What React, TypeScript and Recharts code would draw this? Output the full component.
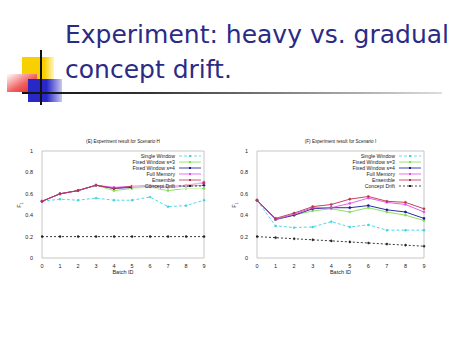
import React from "react";
import { LineChart, Line, XAxis, YAxis, ReferenceArea } from "recharts";

const batches = [0, 1, 2, 3, 4, 5, 6, 7, 8, 9];
const yTicks = [0, 0.2, 0.4, 0.6, 0.8, 1];

// Scenario H (heavy drift)
const hSingle = [0.53, 0.55, 0.54, 0.56, 0.54, 0.54, 0.57, 0.48, 0.49, 0.54];
const hFixed3 = [0.53, 0.6, 0.63, 0.68, 0.63, 0.65, 0.66, 0.63, 0.65, 0.65];
const hFixed4 = [0.53, 0.6, 0.63, 0.68, 0.65, 0.66, 0.67, 0.66, 0.67, 0.68];
const hFull = [0.53, 0.6, 0.63, 0.68, 0.66, 0.67, 0.68, 0.66, 0.68, 0.71];
const hEnsemble = [0.53, 0.6, 0.63, 0.68, 0.65, 0.67, 0.68, 0.67, 0.68, 0.7];
const hDrift = [0.2, 0.2, 0.2, 0.2, 0.2, 0.2, 0.2, 0.2, 0.2, 0.2];

// Scenario I (gradual drift)
const iSingle = [0.54, 0.3, 0.285, 0.29, 0.34, 0.29, 0.31, 0.26, 0.26, 0.26];
const iFixed3 = [0.54, 0.36, 0.4, 0.44, 0.46, 0.43, 0.47, 0.43, 0.4, 0.35];
const iFixed4 = [0.54, 0.36, 0.4, 0.46, 0.47, 0.47, 0.49, 0.45, 0.43, 0.37];
const iFull = [0.54, 0.36, 0.41, 0.47, 0.47, 0.51, 0.56, 0.52, 0.5, 0.43];
const iEnsemble = [0.54, 0.37, 0.42, 0.48, 0.5, 0.55, 0.575, 0.53, 0.52, 0.46];
const iDrift = [0.2, 0.19, 0.18, 0.17, 0.16, 0.15, 0.14, 0.13, 0.12, 0.11];

const series = [
  { key: "single", name: "Single Window", color: "#3fd3e0", dash: "3 2" },
  { key: "fixed3", name: "Fixed Window s=3", color: "#7fe04a", dash: undefined },
  { key: "fixed4", name: "Fixed Window s=4", color: "#14149c", dash: undefined },
  { key: "full", name: "Full Memory", color: "#e050e8", dash: undefined },
  { key: "ensemble", name: "Ensemble", color: "#c0304a", dash: undefined },
  { key: "drift", name: "Concept Drift", color: "#222222", dash: "2 2" },
];

const build = (cols: number[][]) =>
  batches.map((b, i) => ({
    batch: b,
    single: cols[0][i],
    fixed3: cols[1][i],
    fixed4: cols[2][i],
    full: cols[3][i],
    ensemble: cols[4][i],
    drift: cols[5][i],
  }));

const dataH = build([hSingle, hFixed3, hFixed4, hFull, hEnsemble, hDrift]);
const dataI = build([iSingle, iFixed3, iFixed4, iFull, iEnsemble, iDrift]);

const chartFont = "'Liberation Sans', Arial, sans-serif";
const frame = "#b8b8b8";

const LegendBox = ({ right }: { right: number }) => (
  <div
    style={{
      position: "absolute",
      top: 18,
      right,
      fontFamily: chartFont,
      fontSize: 5.2,
      color: "#222",
      lineHeight: "6px",
      background: "rgba(255,255,255,0.6)",
    }}
  >
    {series.map((s) => (
      <div key={s.key} style={{ display: "flex", justifyContent: "flex-end", alignItems: "center", height: 6 }}>
        <span>{s.name}</span>
        <svg width={24} height={6} style={{ marginLeft: 3 }}>
          <line x1={1} y1={3} x2={23} y2={3} stroke={s.color} strokeWidth={0.8} strokeDasharray={s.dash} />
          <rect x={11} y={2} width={2} height={2} fill={s.color} />
        </svg>
      </div>
    ))}
  </div>
);

const fmt = (v: number) => (v === 0 ? "0" : v === 1 ? "1" : String(v));

function Panel({ data, title, width, left }: { data: any[]; title: string; width: number; left: number }) {
  return (
    <div style={{ position: "absolute", left, top: 135, width, height: 150 }}>
      <div
        style={{
          position: "absolute",
          top: 4,
          left: 42,
          width: width - 68,
          textAlign: "center",
          fontFamily: chartFont,
          fontSize: 4.6,
          color: "#222",
        }}
      >
        {title}
      </div>
      <div
        style={{
          position: "absolute",
          left: 17,
          top: 66,
          fontFamily: chartFont,
          fontSize: 5.5,
          color: "#222",
          transform: "rotate(-90deg)",
        }}
      >
        F<sub style={{ fontSize: 4 }}>1</sub>
      </div>
      <LineChart width={width} height={150} data={data} margin={{ top: 16, right: 26, bottom: 7, left: 22 }}>
        <XAxis
          dataKey="batch"
          type="number"
          domain={[0, 9]}
          ticks={batches}
          axisLine={false}
          tickLine={false}
          tick={{ fontSize: 5.5, fill: "#222", fontFamily: chartFont }}
          tickMargin={0}
          height={20}
          label={{ value: "Batch ID", position: "insideBottom", offset: 4, fontSize: 5.5, fill: "#222", fontFamily: chartFont }}
        />
        <YAxis
          type="number"
          domain={[0, 1]}
          ticks={yTicks}
          tickFormatter={fmt}
          axisLine={false}
          tickLine={false}
          width={20}
          tick={{ fontSize: 5.5, fill: "#222", fontFamily: chartFont }}
          tickMargin={3}
        />
        <ReferenceArea x1={0} x2={9} y1={0} y2={1} fill="none" stroke={frame} strokeWidth={0.8} />
        {series.map((s) => (
          <Line
            key={s.key}
            dataKey={s.key}
            name={s.name}
            stroke={s.color}
            strokeWidth={0.9}
            strokeDasharray={s.dash}
            isAnimationActive={false}
            dot={{ r: 1.1, fill: s.color, stroke: s.color, strokeWidth: 0.5 }}
          />
        ))}
      </LineChart>
      <LegendBox right={28} />
    </div>
  );
}

export default function App() {
  return (
    <div style={{ position: "absolute", left: 0, top: 0, width: 474, height: 355, background: "#fff", overflow: "hidden" }}>
      {/* slide decoration */}
      <div style={{ position: "absolute", left: 22, top: 57, width: 32, height: 22, background: "linear-gradient(to right, #f8d000 70%, #fff6c0)" }} />
      <div style={{ position: "absolute", left: 7, top: 74, width: 30, height: 18, background: "linear-gradient(to bottom right, #fff 0%, #f06060 55%, #e02020)" }} />
      <div style={{ position: "absolute", left: 28, top: 79, width: 34, height: 23, background: "linear-gradient(to right, #2828c8 55%, #c8c8f0)" }} />
      <div style={{ position: "absolute", left: 40, top: 50, width: 1.5, height: 55, background: "#111" }} />
      <div style={{ position: "absolute", left: 22, top: 92, width: 420, height: 1.5, background: "linear-gradient(to right, #111 0%, #333 30%, #ddd 100%)" }} />
      <div
        style={{
          position: "absolute",
          left: 65,
          top: 17,
          fontFamily: "'DejaVu Sans', Verdana, sans-serif",
          fontSize: 25,
          lineHeight: "35px",
          color: "#2b2b85",
          whiteSpace: "nowrap",
        }}
      >
        Experiment: heavy vs. gradual
        <br />
        concept drift.
      </div>
      <Panel data={dataH} title="(E) Experiment result for Scenario H" width={230} left={0} />
      <Panel data={dataI} title="(F) Experiment result for Scenario I" width={235} left={215} />
    </div>
  );
}
